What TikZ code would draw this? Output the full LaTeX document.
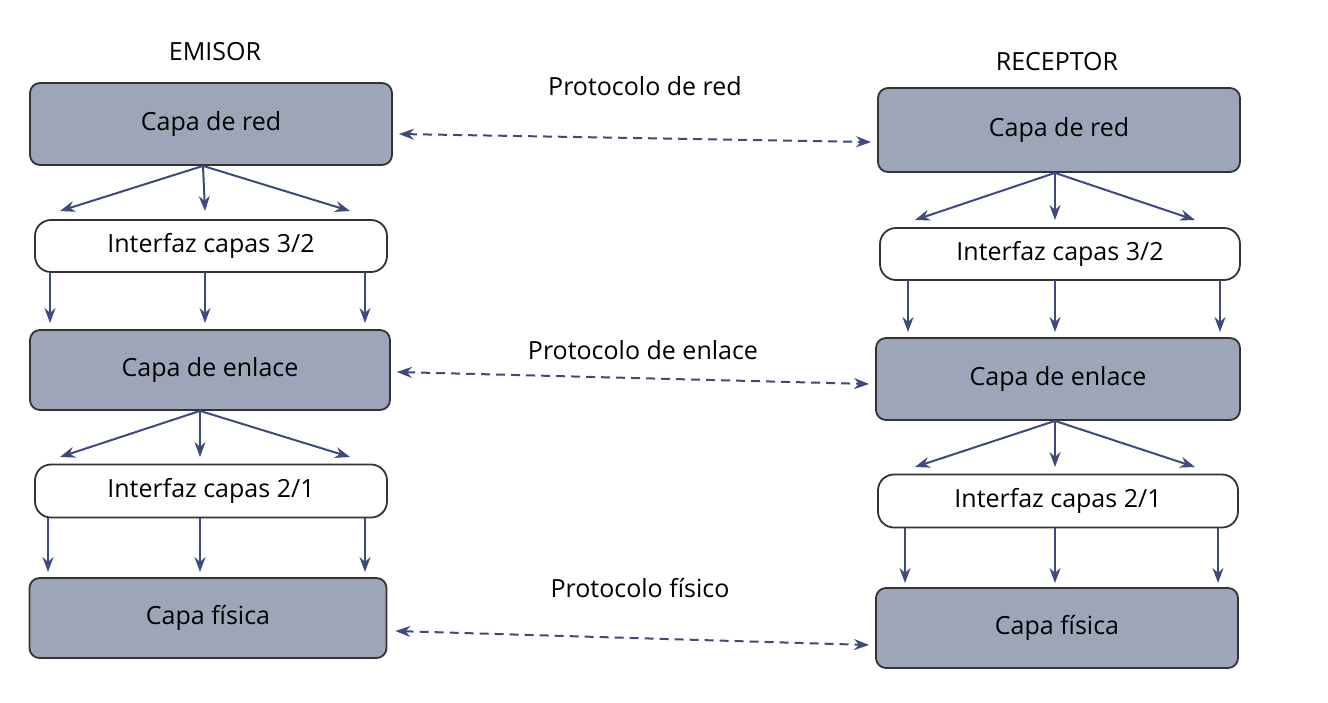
\documentclass[tikz,border=0pt]{standalone}
\usepackage{fontspec}
\setmainfont{Open Sans}
\usetikzlibrary{arrows.meta}
\definecolor{arr}{HTML}{3E4A7C}
\definecolor{boxg}{HTML}{9CA6B8}
\begin{document}
\begin{tikzpicture}[x=1pt,y=-1pt,
  layer/.style={draw=black!80,line width=1.8pt,fill=boxg,rounded corners=10pt,font=\fontsize{25}{28}\selectfont},
  intf/.style={draw=black!80,line width=1.8pt,fill=white,rounded corners=16pt,font=\fontsize{25}{28}\selectfont},
  dn/.style={arr,line width=2pt,-{Stealth[length=15pt,width=11pt]}},
  prot/.style={arr,line width=2pt,dash pattern=on 9pt off 6pt,{Stealth[length=15pt,width=11pt]}-{Stealth[length=15pt,width=11pt]}},
  lbl/.style={font=\fontsize{25}{28}\selectfont}]
\useasboundingbox (0,0) rectangle (1328,702);
\fill[white] (0,0) rectangle (1328,702);
% left
\node[lbl] (em) at (215,52) {EMISOR};
\node[layer,minimum width=362pt,minimum height=82pt] (lr) at (211,124) {Capa de red};
\node[intf,minimum width=352pt,minimum height=52pt] (li1) at (211,246) {Interfaz capas 3/2};
\node[layer,minimum width=360pt,minimum height=80pt] (le) at (210,370) {Capa de enlace};
\node[intf,minimum width=352pt,minimum height=53pt] (li2) at (211,491) {Interfaz capas 2/1};
\node[layer,minimum width=357pt,minimum height=80pt] (lf) at (208,618) {Capa física};
% right
\node[lbl] (re) at (1057,62) {RECEPTOR};
\node[layer,minimum width=362pt,minimum height=84pt] (rr) at (1059,130) {Capa de red};
\node[intf,minimum width=360pt,minimum height=52pt] (ri1) at (1060,254) {Interfaz capas 3/2};
\node[layer,minimum width=364pt,minimum height=82pt] (rel) at (1058,379) {Capa de enlace};
\node[intf,minimum width=360pt,minimum height=53pt] (ri2) at (1058,501) {Interfaz capas 2/1};
\node[layer,minimum width=362pt,minimum height=80pt] (rf) at (1057,628) {Capa física};
% fan arrows left
\coordinate (a1) at (60,211); \coordinate (a2) at (205,211); \coordinate (a3) at (350,211);
\draw[dn] (lr.south) ++(-8,0) -- (a1);
\draw[dn] (lr.south) ++(-8,0) -- (a2);
\draw[dn] (lr.south) ++(-8,0) -- (a3);
\coordinate (b1) at (50,323); \coordinate (b2) at (205,323); \coordinate (b3) at (365,323);
\draw[dn] (50,272) -- (b1); \draw[dn] (205,272) -- (b2); \draw[dn] (365,272) -- (b3);
\coordinate (c1) at (60,457); \coordinate (c2) at (200,457); \coordinate (c3) at (350,457);
\draw[dn] (le.south) ++(-10,0) -- (c1);
\draw[dn] (le.south) ++(-10,0) -- (c2);
\draw[dn] (le.south) ++(-10,0) -- (c3);
\coordinate (d1) at (48,572); \coordinate (d2) at (200,572); \coordinate (d3) at (365,572);
\draw[dn] (48,518) -- (d1); \draw[dn] (200,518) -- (d2); \draw[dn] (365,518) -- (d3);
% fan arrows right
\coordinate (e1) at (915,220); \coordinate (e2) at (1055,220); \coordinate (e3) at (1195,220);
\draw[dn] (rr.south) ++(-4,0) -- (e1);
\draw[dn] (rr.south) ++(-4,0) -- (e2);
\draw[dn] (rr.south) ++(-4,0) -- (e3);
\coordinate (f1) at (908,332); \coordinate (f2) at (1055,332); \coordinate (f3) at (1220,332);
\draw[dn] (908,280) -- (f1); \draw[dn] (1055,280) -- (f2); \draw[dn] (1220,280) -- (f3);
\coordinate (g1) at (915,467); \coordinate (g2) at (1055,467); \coordinate (g3) at (1195,467);
\draw[dn] (rel.south) ++(-3,0) -- (g1);
\draw[dn] (rel.south) ++(-3,0) -- (g2);
\draw[dn] (rel.south) ++(-3,0) -- (g3);
\coordinate (h1) at (905,583); \coordinate (h2) at (1055,583); \coordinate (h3) at (1218,583);
\draw[dn] (905,528) -- (h1); \draw[dn] (1055,528) -- (h2); \draw[dn] (1218,528) -- (h3);
% protocols
\draw[prot] ([xshift=6pt,yshift=-10pt]lr.east) -- ([xshift=-6pt,yshift=-12pt]rr.west);
\node[lbl] (p1) at (645,86) {Protocolo de red};
\draw[prot] ([xshift=6pt,yshift=-2pt]le.east) -- ([xshift=-6pt,yshift=-5pt]rel.west);
\node[lbl] (p2) at (643,350) {Protocolo de enlace};
\draw[prot] ([xshift=8pt,yshift=-13pt]lf.east) -- ([xshift=-6pt,yshift=-17pt]rf.west);
\node[lbl] (p3) at (640,588) {Protocolo físico};
\end{tikzpicture}
\end{document}
